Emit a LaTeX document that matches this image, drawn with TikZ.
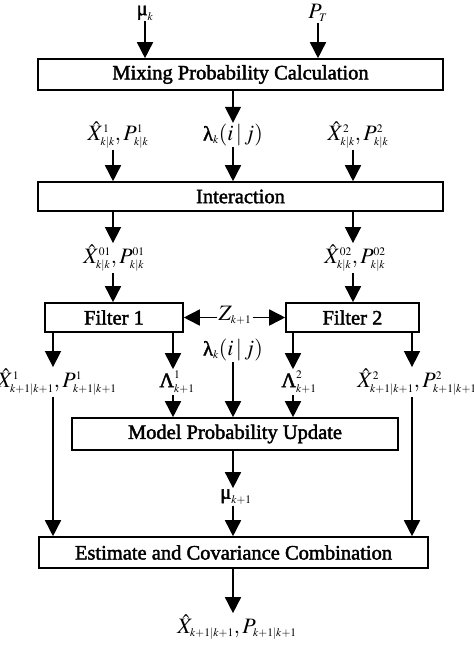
\documentclass[tikz,border=0pt]{standalone}
\usepackage{mathptmx}
\usepackage{fontspec}
\setmainfont{Liberation Serif}[FakeBold=2]
\DeclareMathSizes{20.5}{22}{11.5}{8}
\usetikzlibrary{arrows.meta}
\newcommand{\gmu}{\mbox{μ}}
\newcommand{\glam}{\mbox{λ}}
\newcommand{\gLam}{\mbox{Λ}}
\begin{document}
\begin{tikzpicture}[x=1pt,y=-1pt,
  every node/.style={font=\fontsize{20.5}{23}\selectfont},
  box/.style={draw,line width=1.6pt,minimum height=30pt,inner sep=0pt},
  lab/.style={inner sep=1pt},
  arr/.style={line width=1.6pt,-{Triangle[width=16pt,length=16pt]}}]
\useasboundingbox (0,0) rectangle (474,667);
% boxes
\node[box,minimum width=405pt,minimum height=31pt] (mix) at (240.5,74.5) {Mixing Probability Calculation};
\node[box,minimum width=405pt,minimum height=29pt] (inter) at (240.5,196.5) {Interaction};
\node[box,minimum width=138pt,minimum height=29pt] (f1) at (114,317.5) {Filter 1};
\node[box,minimum width=133pt,minimum height=29pt] (f2) at (352.5,317.5) {Filter 2};
\node[box,minimum width=326pt,minimum height=32pt] (mpu) at (235,434) {Model Probability Update};
\node[box,minimum width=389pt,minimum height=31pt] (ecc) at (233.5,552.5) {Estimate and Covariance Combination};
% labels
\node[lab] (muk) at (145,13) {$\gmu_k$};
\node[lab] (pt) at (318,13) {$P_T$};
\node[lab] (x1) at (118,135) {$\hat{X}^1_{k|k},P^1_{k|k}$};
\node[lab] (lam1) at (233,135) {$\glam_k(i\,|\,j)$};
\node[lab] (x2) at (358,135) {$\hat{X}^2_{k|k},P^2_{k|k}$};
\node[lab] (x01) at (114,258) {$\hat{X}^{01}_{k|k},P^{01}_{k|k}$};
\node[lab] (x02) at (355,258) {$\hat{X}^{02}_{k|k},P^{02}_{k|k}$};
\node[lab] (z) at (235,315) {$Z_{k+1}$};
\node[lab] (lam2) at (233,350) {$\glam_k(i\,|\,j)$};
\node[lab] (x1n) at (57,382) {$\hat{X}^1_{k+1|k+1},P^1_{k+1|k+1}$};
\node[lab] (L1) at (177,382) {$\gLam^1_{k+1}$};
\node[lab] (L2) at (299,382) {$\gLam^2_{k+1}$};
\node[lab] (x2n) at (417,382) {$\hat{X}^2_{k+1|k+1},P^2_{k+1|k+1}$};
\node[lab] (mu1) at (236,497) {$\gmu_{k+1}$};
\node[lab] (fin) at (237,627) {$\hat{X}_{k+1|k+1},P_{k+1|k+1}$};
% x positions of vertical connectors
\coordinate (ca) at (53,0);
\coordinate (cb) at (113,0);
\coordinate (cc) at (233,0);
\coordinate (cd) at (353,0);
\coordinate (ce) at (173,0);
\coordinate (cf) at (293,0);
\coordinate (cg) at (412,0);
% connectors
\draw[arr] (muk) -- (muk |- mix.north);
\draw[arr] (pt) -- (pt |- mix.north);
\draw[arr] (mix.south -| cc) -- (cc |- lam1.north);
\draw[arr] (x1.south -| cb) -- (cb |- inter.north);
\draw[arr] (lam1.south -| cc) -- (cc |- inter.north);
\draw[arr] (x2.south -| cd) -- (cd |- inter.north);
\draw[arr] (inter.south -| cb) -- (cb |- x01.north);
\draw[arr] (inter.south -| cd) -- (cd |- x02.north);
\draw[arr] (x01.south -| cb) -- (cb |- f1.north);
\draw[arr] (x02.south -| cd) -- (cd |- f2.north);
\draw[arr] (z.west |- f1.east) -- (f1.east);
\draw[arr] (z.east |- f2.west) -- (f2.west);
\draw[arr] (f1.south -| ca) -- (ca |- x1n.north);
\draw[arr] (f1.south -| ce) -- (ce |- L1.north);
\draw[arr] (f2.south -| cf) -- (cf |- L2.north);
\draw[arr] (f2.south -| cg) -- (cg |- x2n.north);
\draw[arr] (L1.south -| ce) -- (ce |- mpu.north);
\draw[arr] (lam2.south -| cc) -- (cc |- mpu.north);
\draw[arr] (L2.south -| cf) -- (cf |- mpu.north);
\draw[arr] (mpu.south -| cc) -- (cc |- mu1.north);
\draw[arr] (mu1.south -| cc) -- (cc |- ecc.north);
\draw[arr] (x1n.south -| ca) -- (ca |- ecc.north);
\draw[arr] (x2n.south -| cg) -- (cg |- ecc.north);
\draw[arr] (ecc.south -| cc) -- (cc |- fin.north);
\end{tikzpicture}
\end{document}
